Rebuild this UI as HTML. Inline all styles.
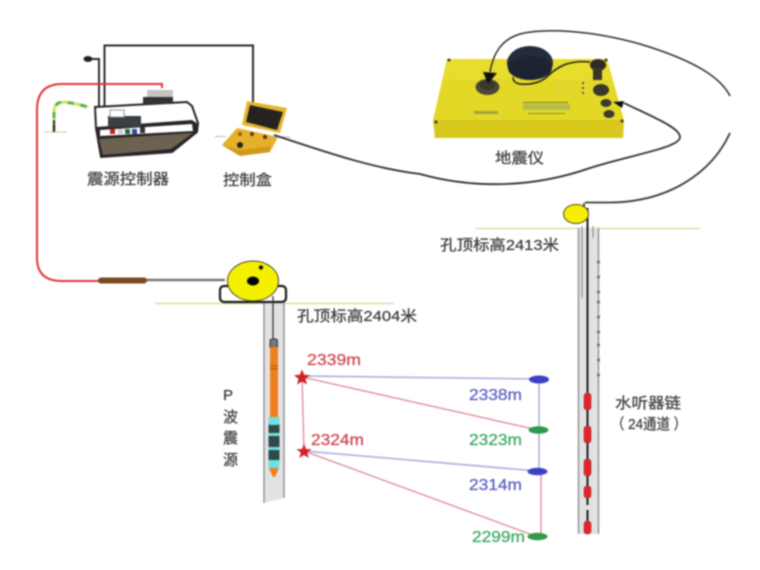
<!DOCTYPE html>
<html><head><meta charset="utf-8"><style>
html,body{margin:0;padding:0;background:#fff;width:760px;height:570px;overflow:hidden}
svg{display:block;filter:blur(.8px)}
text{font-family:"Liberation Sans","Noto Sans CJK SC",sans-serif;fill:#3c3c3c;font-size:15px;stroke:#3c3c3c;stroke-width:.25px}
</style></head><body>
<svg width="760" height="570" viewBox="0 0 760 570" xmlns="http://www.w3.org/2000/svg">
<rect width="760" height="570" fill="#fff"/>
<!-- ground lines -->
<path d="M155 303.500H394" stroke="#d3e4a8" stroke-width="1.500" fill="none"/>
<path d="M475 228.500H700" stroke="#d3e4a8" stroke-width="1.500" fill="none"/>
<path d="M44 132H67" stroke="#d3e4a8" stroke-width="1.500" fill="none"/>
<!-- ground wire -->
<path d="M54 131V112Q54 102 64 102Q74 103 88 107" stroke="#cfe36a" stroke-width="3" fill="none"/>
<path d="M54 131V112Q54 102 64 102Q74 103 88 107" stroke="#55b050" stroke-width="3" stroke-dasharray="6 7" fill="none"/>
<path d="M54 132V120" stroke="#333" stroke-width="2" fill="none"/>
<!-- wires top-left -->
<path d="M104.500 106V45.500H253V102" stroke="#2b2b2b" stroke-width="2" fill="none"/>
<path d="M88 59H99V106" stroke="#2b2b2b" stroke-width="2" fill="none"/>
<ellipse cx="88" cy="59" rx="4.500" ry="3" fill="#222"/>
<!-- red -->
<path d="M162 88V84H62Q37 84 37 110V258Q37 281 62 281H100" stroke="#e0353a" stroke-width="2" fill="none"/>
<path d="M145 280H225" stroke="#777" stroke-width="2.500" fill="none"/>
<rect x="98" y="277.500" width="49" height="6" rx="3" fill="#7a4a22"/>
<!-- controller -->
<path d="M95 107L187 102L192 106L198 123L197 132L172 152L101 157L96 128Z" fill="#fff" stroke="#2a2228" stroke-width="2"/>
<path d="M96 127L192 120L198 124L197 132L172 152L101 157Z" fill="#2c2326"/>
<path d="M100 130L192 124L193 131L100 136Z" fill="#fff"/>
<path d="M99 139L193 133L171 149L103 155Z" fill="#6b6252"/>
<rect x="108" y="116" width="33" height="11" fill="#3a3f44"/>
<rect x="110" y="110" width="14" height="7" fill="#fff" stroke="#999"/>
<rect x="110" y="129" width="5" height="5" fill="#c42020"/>
<rect x="118" y="129" width="5" height="5" fill="#cfcfcf"/>
<rect x="125" y="129" width="5" height="5" fill="#2b6a45"/>
<rect x="132" y="129" width="5" height="5" fill="#2a4da0"/>
<rect x="140" y="127" width="5" height="6" fill="#333"/>
<rect x="147" y="90" width="26" height="8" fill="#c4c4c4"/>
<rect x="143" y="97" width="30" height="7" fill="#333"/>
<!-- control box -->
<path d="M247 101L287 108L280 133L242 125Z" fill="#e7b52c"/>
<path d="M250 105L283 112L277 130L246 122Z" fill="#25231f"/>
<path d="M222 145L237 128L278 137L270 152L240 156Z" fill="#e6b02a"/>
<path d="M222 145L240 150L270 146L270 152L240 156Z" fill="#cf9a1d"/>
<circle cx="240" cy="145" r="3" fill="#222"/>
<circle cx="240" cy="134" r="2" fill="#a5511c"/><circle cx="252" cy="134" r="2" fill="#5a3a1a"/><circle cx="265" cy="137" r="2.200" fill="#5a3a1a"/>
<path d="M215 136.500H226M270 137H290" stroke="#bbb" stroke-width="1" fill="none"/>
<!-- instrument -->
<path d="M433 120L447 59H607L624 120L623 138H435Z" fill="#e4d826"/>
<path d="M433 120H624L623 138H435Z" fill="#d8c81e"/>
<path d="M443 79L447 59H607L612 80Z" fill="#e8dc2c"/>
<ellipse cx="530" cy="63" rx="23" ry="17" fill="#242b3c"/>
<ellipse cx="530" cy="68" rx="22" ry="12" fill="#1d2331"/>
<ellipse cx="487.500" cy="87" rx="12" ry="8" fill="#4d4a34"/>
<ellipse cx="487.500" cy="85" rx="8" ry="5" fill="#39382a"/>
<ellipse cx="598" cy="65" rx="8" ry="6" fill="#2c2c24"/><rect x="593" y="68" width="9" height="12" fill="#3a3626"/>
<ellipse cx="601" cy="90" rx="8" ry="6" fill="#393729"/>
<ellipse cx="606" cy="103" rx="5.500" ry="4" fill="#3c3a2b"/>
<ellipse cx="609" cy="114" rx="5.500" ry="4" fill="#3c3a2b"/>
<rect x="523" y="104" width="47" height="6" fill="#b6bd4e"/>
<rect x="523" y="102" width="45" height="1" fill="#7a7a2a"/><rect x="528" y="113" width="37" height="1" fill="#8a8a2a"/>
<rect x="474" y="111" width="24" height="3" fill="#a2a33e"/>
<path d="M583 82v14" stroke="#555" stroke-width="2" stroke-dasharray="2 3" fill="none"/>
<path d="M558 83H582M556 89H578M556 95H578" stroke="#bba" stroke-width=".8" stroke-dasharray="3 5" fill="none"/>
<circle cx="449" cy="60" r="1.500" fill="#333"/><circle cx="606" cy="60" r="1.500" fill="#333"/><circle cx="436" cy="122" r="1.500" fill="#333"/><circle cx="622" cy="121" r="1.500" fill="#333"/>
<path d="M590 62C570 60 558 66 548 76C540 83 530 85 520 84C514 83 513 80 513 77" stroke="#222" stroke-width="1.500" fill="none"/>
<!-- cables -->
<path d="M730 96C722 80 700 62 640 44C590 30 545 28 520 34C500 40 493 55 490 72" stroke="#2d2d2d" stroke-width="1.500" fill="none"/>
<path d="M483 72L497 73L488 84Z" fill="#111"/>
<path d="M730 133C712 172 670 202 610 202.500H585" stroke="#3a3a3a" stroke-width="1.800" fill="none"/>
<path d="M584 203V210" stroke="#3a3a3a" stroke-width="1.800" fill="none"/>
<path d="M274 135C320 150 370 168 420 174C470 188 530 189 590 168C630 155 680 148 680 137C680 128 655 118 624 103" stroke="#2f2f2f" stroke-width="1.800" fill="none"/>
<path d="M613 102L624 101L622 108Z" fill="#111"/>
<!-- left well -->
<path d="M264 303H284V498L264 503Z" fill="#e2e2e2"/>
<path d="M264 303V503M284 303V498" stroke="#888" stroke-width="1.300" fill="none"/>
<!-- frame + wheel -->
<rect x="220" y="286" width="66" height="16" rx="4" stroke="#1b1b1b" stroke-width="2.200" fill="#fff"/>
<ellipse cx="253" cy="281" rx="25.500" ry="20" fill="#f4f000" stroke="#4a4a2a" stroke-width="1"/>
<ellipse cx="253" cy="281" rx="6" ry="4.500" fill="#000"/>
<circle cx="261" cy="267.500" r="2.200" fill="#111"/>
<path d="M273 296V339" stroke="#333" stroke-width="1.300" fill="none"/>
<!-- source tool -->
<rect x="270" y="339" width="7.500" height="10" rx="2" fill="#777" stroke="#333"/>
<rect x="270" y="347" width="8" height="72" fill="#ef7f1b"/>
<path d="M270 366H278M270 369H278" stroke="#a5561a" stroke-width="1" fill="none"/>
<rect x="268.500" y="417" width="11" height="51" rx="2" fill="#2f4a4a"/>
<rect x="268.500" y="417" width="11" height="8" rx="2" fill="#6fe0e0"/>
<rect x="268.500" y="433" width="11" height="3" fill="#6fe0e0"/>
<rect x="268.500" y="447" width="11" height="3" fill="#6fe0e0"/>
<rect x="268.500" y="460" width="11" height="8" fill="#6fe0e0"/>
<path d="M269 468H279L275 477H273Z" fill="#ef7f1b"/>
<!-- right well -->
<rect x="578" y="228" width="21" height="306" fill="#e2e2e2"/>
<path d="M578.500 228V534M598.500 228V534" stroke="#888" stroke-width="1.300" fill="none"/>
<path d="M582 226V298M593 226V238" stroke="#888" stroke-width="1.100" fill="none"/>
<path d="M587.500 208V534" stroke="#1d1d1d" stroke-width="2" fill="none"/>
<g fill="#666"><circle cx="598.500" cy="262" r="1.500"/><circle cx="598.500" cy="277" r="1.500"/><circle cx="598.500" cy="292" r="1.500"/><circle cx="598.500" cy="302" r="1.500"/><circle cx="598.500" cy="317" r="1.500"/><circle cx="598.500" cy="332" r="1.500"/><circle cx="598.500" cy="345" r="1.500"/><circle cx="598.500" cy="360" r="1.500"/><circle cx="598.500" cy="375" r="1.500"/></g>
<path d="M587.500 505V510" stroke="#e2e2e2" stroke-width="3" fill="none"/>
<g fill="#e8202a" stroke="#7a4040" stroke-width=".6">
<rect x="584" y="393" width="7" height="17" rx="3"/>
<rect x="584" y="426" width="7" height="17" rx="3"/>
<rect x="584" y="459" width="7" height="17" rx="3"/>
<rect x="584" y="486" width="7" height="12" rx="3"/>
<rect x="584" y="521" width="7" height="13" rx="3"/>
</g>
<ellipse cx="576" cy="214" rx="12.500" ry="9.500" fill="#f6f000" stroke="#4a4a2a" stroke-width="1"/>
<!-- rays -->
<path d="M302 376L538 379M304 451L537 471M539 379V471" stroke="#a9a9de" stroke-width="1.500" fill="none"/>
<path d="M302 377L538 430M304 451L538 537M302 377L304 451M541 471V537" stroke="#dc8a92" stroke-width="1.300" fill="none"/>
<path d="M302 369.500L304.200 374.800L310 375.200L305.500 378.900L307 384.500L302 381.500L297 384.500L298.500 378.900L294 375.200L299.800 374.800Z" fill="#d0202c"/>
<path d="M304 443.500L306 449L311.500 449.200L307.200 452.600L308.700 458L304 455L299.300 458L300.800 452.600L296.500 449.200L302 449Z" fill="#d0202c"/>
<ellipse cx="539" cy="379.500" rx="10" ry="4" fill="#3f3fc4"/>
<ellipse cx="538.500" cy="430" rx="10" ry="3.800" fill="#2f9a4a"/>
<ellipse cx="537.500" cy="471.500" rx="10" ry="3.800" fill="#3f3fc4"/>
<ellipse cx="537.500" cy="536.500" rx="10" ry="3.800" fill="#2f9a4a"/>
<!-- labels -->
<text x="87" y="184" textLength="82" lengthAdjust="spacingAndGlyphs">震源控制器</text>
<text x="223" y="185" textLength="49" lengthAdjust="spacingAndGlyphs">控制盒</text>
<text x="495" y="163" textLength="49" lengthAdjust="spacingAndGlyphs">地震仪</text>
<text x="440" y="250" textLength="119" lengthAdjust="spacingAndGlyphs">孔顶标高2413米</text>
<text x="297" y="321" textLength="120" lengthAdjust="spacingAndGlyphs">孔顶标高2404米</text>
<text x="223" y="400">P</text>
<text x="223" y="422">波</text>
<text x="223" y="443">震</text>
<text x="223" y="465">源</text>
<text x="307" y="365" textLength="54" lengthAdjust="spacingAndGlyphs" style="fill:#d0434f;stroke:#d0434f;font-size:16px">2339m</text>
<text x="311" y="445" textLength="53" lengthAdjust="spacingAndGlyphs" style="fill:#d0434f;stroke:#d0434f;font-size:16px">2324m</text>
<text x="469" y="400" textLength="53" lengthAdjust="spacingAndGlyphs" style="fill:#5a5fc0;stroke:#5a5fc0;font-size:16px">2338m</text>
<text x="469" y="445" textLength="53" lengthAdjust="spacingAndGlyphs" style="fill:#3aa860;stroke:#3aa860;font-size:16px">2323m</text>
<text x="469" y="490" textLength="53" lengthAdjust="spacingAndGlyphs" style="fill:#5a5fc0;stroke:#5a5fc0;font-size:16px">2314m</text>
<text x="472" y="542" textLength="53" lengthAdjust="spacingAndGlyphs" style="fill:#3aa860;stroke:#3aa860;font-size:16px">2299m</text>
<text x="615" y="408" textLength="66" lengthAdjust="spacingAndGlyphs" style="font-size:15px">水听器链</text>
<text x="611" y="429" textLength="76" lengthAdjust="spacingAndGlyphs" style="font-size:15px">（ 24通道 ）</text>
</svg>
</body></html>
